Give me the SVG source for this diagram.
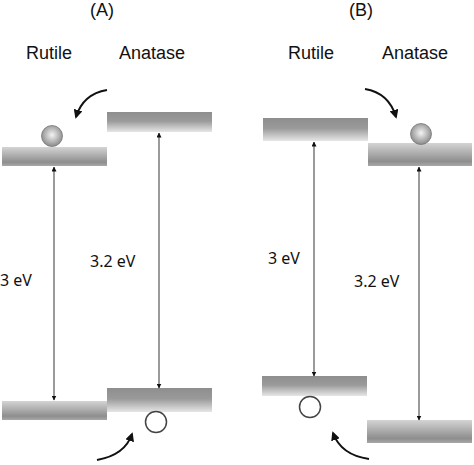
<svg xmlns="http://www.w3.org/2000/svg" width="474" height="465" viewBox="0 0 474 465">
<style>
.lbl{font-family:"Liberation Sans",Arial,sans-serif;font-size:18px;fill:#111}
.ev{font-family:"Noto Sans","Open Sans",sans-serif;font-size:16px;fill:#111}
.gap{stroke:#707070;stroke-width:1.4;fill:none;marker-start:url(#ah);marker-end:url(#ah)}
.cur{stroke:#111;stroke-width:2;fill:none;marker-end:url(#ch)}
.hole{fill:#fff;stroke:#444;stroke-width:1.5}
.ball{fill:url(#gBall);stroke:#777;stroke-width:0.8}
.bL{fill:url(#gLight)}
.bD{fill:url(#gDark)}
</style>
<defs>
<linearGradient id="gLight" x1="0" y1="0" x2="0" y2="1">
<stop offset="0" stop-color="#d4d4d4"/>
<stop offset="0.8" stop-color="#8e8e8e"/>
<stop offset="1" stop-color="#a8a8a8"/>
</linearGradient>
<linearGradient id="gDark" x1="0" y1="0" x2="0" y2="1">
<stop offset="0" stop-color="#8e8e8e"/>
<stop offset="0.45" stop-color="#9a9a9a"/>
<stop offset="1" stop-color="#e6e6e6"/>
</linearGradient>
<radialGradient id="gBall" cx="0.5" cy="0.45" r="0.55">
<stop offset="0" stop-color="#f4f4f4"/>
<stop offset="1" stop-color="#8a8a8a"/>
</radialGradient>
<marker id="ah" viewBox="0 0 10 10" refX="9" refY="5" markerWidth="5" markerHeight="5" markerUnits="userSpaceOnUse" orient="auto-start-reverse">
<path d="M0,0 L10,5 L0,10 z" fill="#111"/>
</marker>
<marker id="ch" viewBox="0 0 10 10" refX="8" refY="5" markerWidth="9" markerHeight="9" markerUnits="userSpaceOnUse" orient="auto">
<path d="M0,0 L10,5 L0,10 z" fill="#111"/>
</marker>
</defs>
<g id="titles">
<text class="lbl" x="102" y="16" text-anchor="middle">(A)</text>
<text class="lbl" x="361" y="16" text-anchor="middle">(B)</text>
<text class="lbl" x="26" y="59">Rutile</text>
<text class="lbl" x="119" y="59">Anatase</text>
<text class="lbl" x="288" y="59">Rutile</text>
<text class="lbl" x="382" y="59">Anatase</text>
</g>
<g id="panelA">
<g id="A-rutile-cb"><rect class="bL" x="2" y="147" width="105" height="19"/></g>
<g id="A-anatase-cb"><rect class="bD" x="107" y="112" width="105" height="20"/></g>
<g id="A-rutile-vb"><rect class="bL" x="2" y="401" width="105" height="19"/></g>
<g id="A-anatase-vb"><rect class="bD" x="107" y="388" width="105" height="24"/></g>
<g id="A-electron"><circle class="ball" cx="52" cy="136" r="10.5"/></g>
<g id="A-hole"><circle class="hole" cx="156" cy="422" r="10.5"/></g>
<g id="A-label-3eV"><text class="ev" x="0" y="286">3 eV</text></g>
<g id="A-label-32eV"><text class="ev" x="90" y="267">3.2 eV</text></g>
</g>
<g id="panelB">
<g id="B-rutile-cb"><rect class="bD" x="263" y="118" width="105" height="23"/></g>
<g id="B-anatase-cb"><rect class="bL" x="368" y="143" width="104" height="23"/></g>
<g id="B-rutile-vb"><rect class="bD" x="262" y="376" width="105" height="20"/></g>
<g id="B-anatase-vb"><rect class="bL" x="367" y="420" width="105" height="23"/></g>
<g id="B-electron"><circle class="ball" cx="421" cy="134" r="10.5"/></g>
<g id="B-hole"><circle class="hole" cx="310" cy="407" r="10.5"/></g>
<g id="B-label-3eV"><text class="ev" x="268" y="264">3 eV</text></g>
<g id="B-label-32eV"><text class="ev" x="354" y="287">3.2 eV</text></g>
</g>
<g id="connectors">
<line class="gap" x1="54" y1="167" x2="54" y2="400"/>
<line class="gap" x1="159" y1="133" x2="159" y2="388"/>
<line class="gap" x1="314" y1="142" x2="314" y2="376"/>
<line class="gap" x1="419" y1="167" x2="419" y2="420"/>
<path class="cur" d="M107,90 Q83,94 76,117"/>
<path class="cur" d="M97,460 Q125,455 132,434"/>
<path class="cur" d="M365,89 Q389,93 396,117"/>
<path class="cur" d="M369,459 Q341,455 333,433"/>
</g>
</svg>
